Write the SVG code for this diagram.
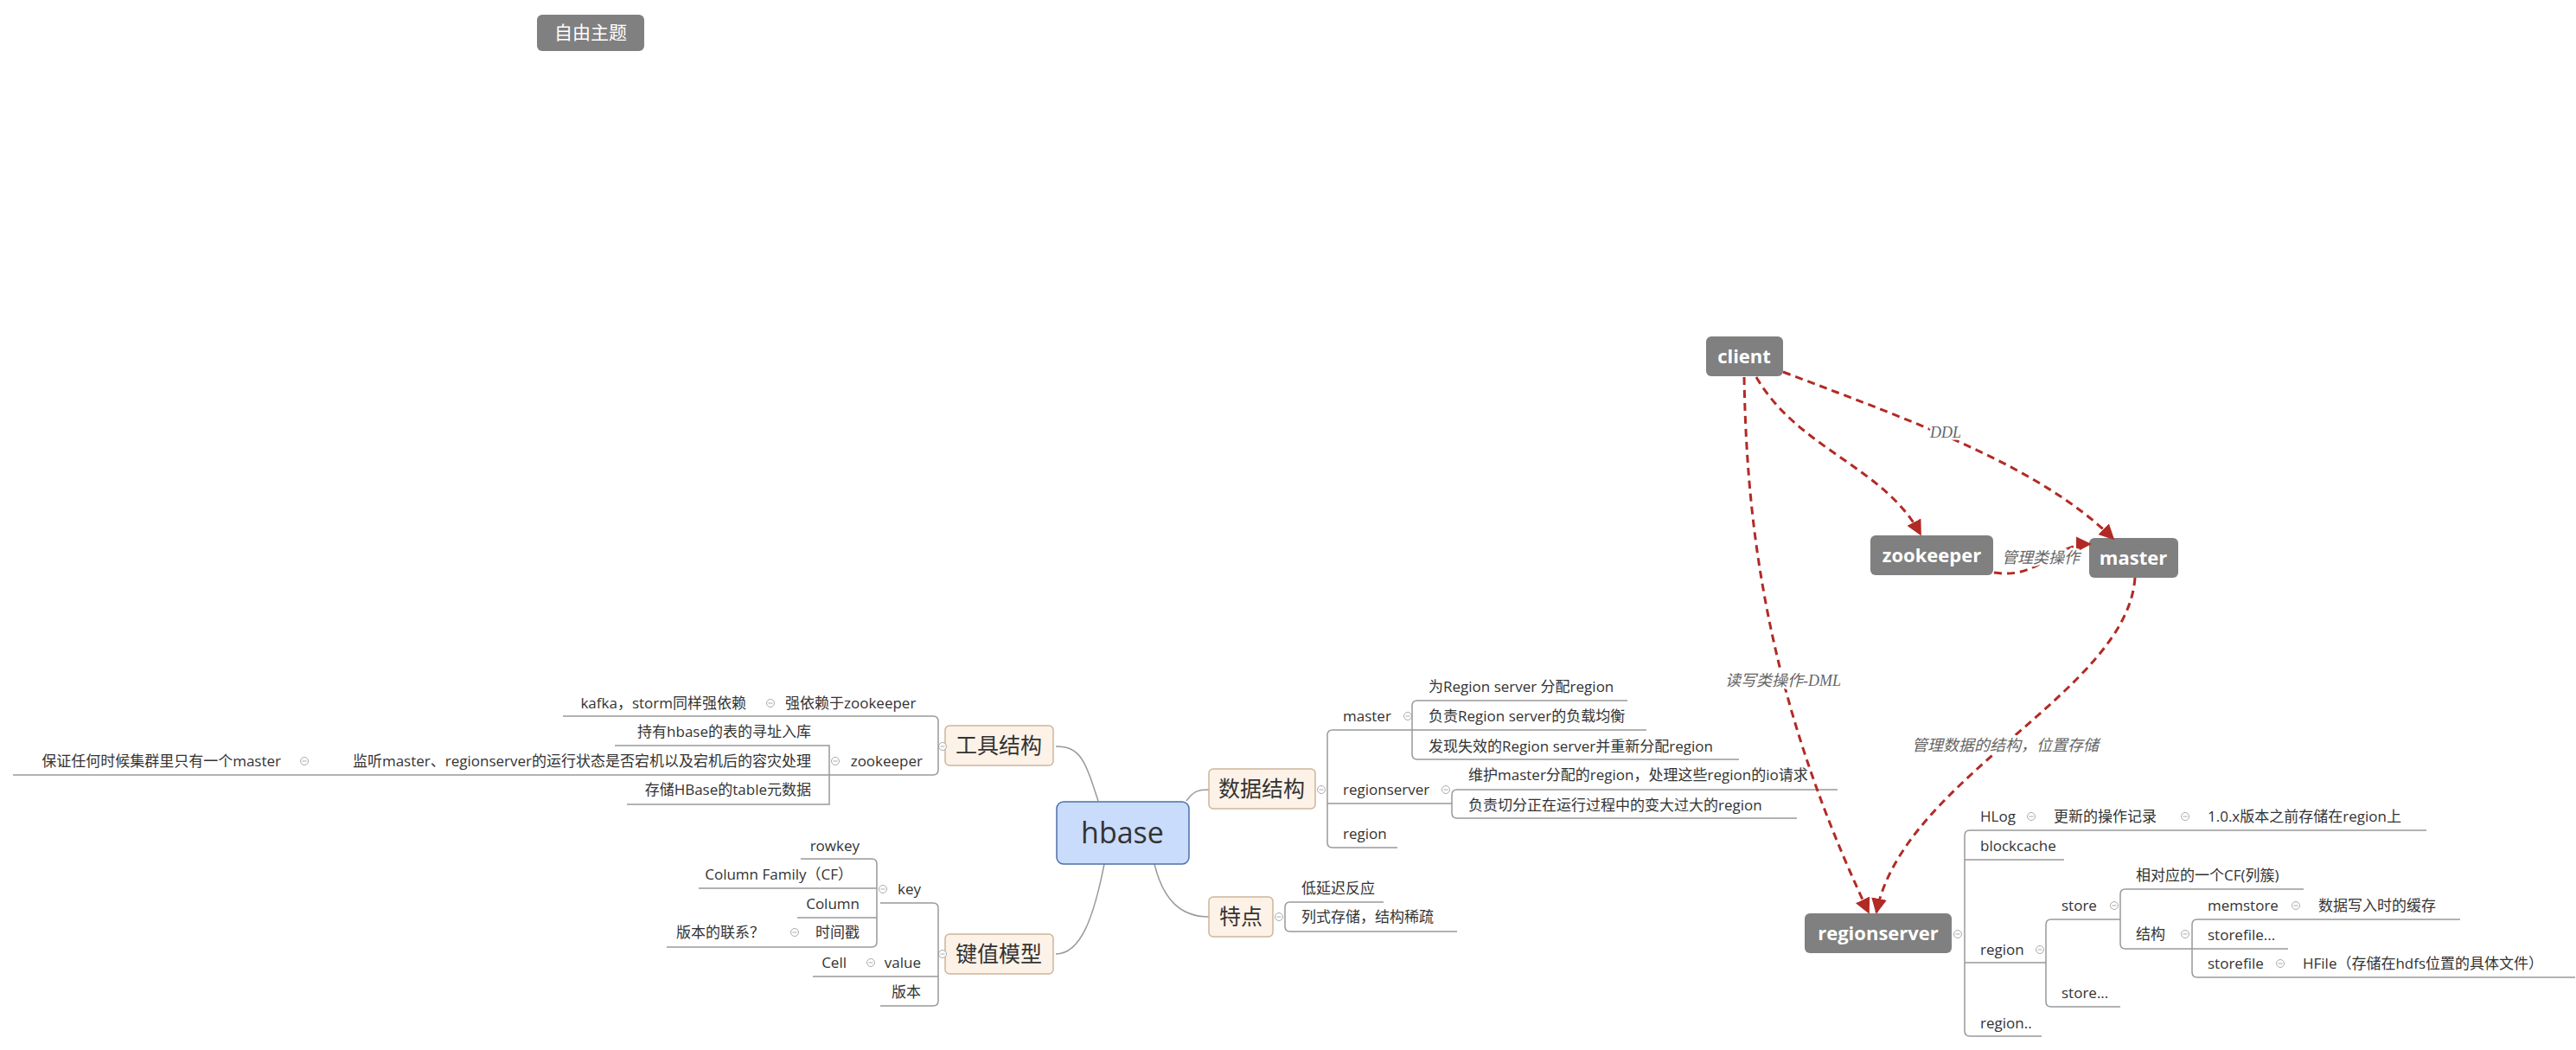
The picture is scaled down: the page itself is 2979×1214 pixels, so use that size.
<svg xmlns="http://www.w3.org/2000/svg" width="2979" height="1214" viewBox="0 0 2979 1214">
<style>
text{font-family:"Open Sans","Noto Sans CJK SC",sans-serif;fill:#333}
.t{font-size:17px}
.e{text-anchor:end}
.ln{fill:none;stroke:#999;stroke-width:1.5}
.topic{fill:#fdf2e7;stroke:#cdb59a;stroke-width:1.5}
.tt{font-size:25px;text-anchor:middle}
.dk{fill:#808080}
.dt{font-size:22px;font-weight:bold;fill:#fff;text-anchor:middle}
.c{fill:#fff;stroke:#aaa;stroke-width:1}
.rel{fill:none;stroke:#b22a25;stroke-width:3;stroke-dasharray:9,6}
.lb{font-family:"Liberation Serif","Noto Sans CJK SC",serif;font-style:italic;font-size:18px;fill:#666;text-anchor:middle;stroke:#fff;stroke-width:5;paint-order:stroke}
</style>
<defs>
<marker id="ah" viewBox="0 0 10 10" refX="9" refY="5" markerWidth="6" markerHeight="6" orient="auto" markerUnits="strokeWidth"><path d="M0,0L10,5L0,10z" fill="#b22a25"/></marker>
<g id="cm"><circle r="4.5" class="c"/><line x1="-2.5" x2="2.5" y1="0" y2="0" stroke="#aaa"/></g>
</defs>
<rect width="2979" height="1214" fill="#fff"/>

<g id="free"><rect x="621" y="17" width="124" height="42" rx="6" class="dk"/><text x="683" y="45" class="dt" style="font-weight:normal;font-size:21px">自由主题</text></g>

<g id="branches">
<path class="ln" d="M1270,926 C1255,880 1250,863 1221,863"/>
<path class="ln" d="M1277,999 C1265,1060 1250,1103 1221,1103"/>
<path class="ln" d="M1372,926 C1380,915 1385,913 1398,913"/>
<path class="ln" d="M1335,999 C1345,1040 1365,1060 1398,1060"/>
</g>

<g id="hbase"><rect x="1222" y="927" width="153" height="72" rx="8" fill="#c9dcfc" stroke="#4c6fa8" stroke-width="1.5"/><text x="1298" y="975" style="font-size:34px;text-anchor:middle">hbase</text></g>

<g id="tool">
<rect x="1093" y="839" width="125" height="46" rx="5" class="topic"/><text x="1155" y="871" class="tt">工具结构</text>
<use href="#cm" x="1090" y="863"/>
<path class="ln" d="M651,828 H1079 Q1085,828 1085,834 V890 Q1085,896 1079,896 H15"/>
<text x="863" y="819" class="t e">kafka，storm同样强依赖</text><use href="#cm" x="891" y="813"/><text x="908" y="819" class="t">强依赖于zookeeper</text>
<text x="1067" y="886" class="t e">zookeeper</text><use href="#cm" x="966" y="880"/>
<path class="ln" d="M711,862 H959 V930 H725"/>
<text x="938" y="852" class="t e">持有hbase的表的寻址入库</text>
<text x="938" y="886" class="t e">监听master、regionserver的运行状态是否宕机以及宕机后的容灾处理</text>
<use href="#cm" x="352" y="880"/>
<text x="325" y="886" class="t e">保证任何时候集群里只有一个master</text>
<text x="938" y="919" class="t e">存储HBase的table元数据</text>
</g>

<g id="kv">
<rect x="1093" y="1080" width="125" height="46" rx="5" class="topic"/><text x="1155" y="1112" class="tt">键值模型</text>
<use href="#cm" x="1090" y="1103"/>
<path class="ln" d="M1018,1044 H1079 Q1085,1044 1085,1050 V1157 Q1085,1163 1079,1163 H1018"/>
<path class="ln" d="M926,993 H1008 Q1014,993 1014,999 V1089 Q1014,1095 1008,1095 H771"/>
<path class="ln" d="M808,1027 H1014 M922,1061 H1014 M940,1129 H1085"/>
<text x="1065" y="1034" class="t e">key</text><use href="#cm" x="1021" y="1028"/>
<text x="994" y="984" class="t e">rowkey</text>
<text x="986" y="1017" class="t e">Column Family（CF）</text>
<text x="994" y="1051" class="t e">Column</text>
<text x="994" y="1084" class="t e">时间戳</text><use href="#cm" x="919" y="1078"/>
<text x="884" y="1084" class="t e">版本的联系？</text>
<text x="1065" y="1119" class="t e">value</text><use href="#cm" x="1007" y="1113"/>
<text x="979" y="1119" class="t e">Cell</text>
<text x="1065" y="1153" class="t e">版本</text>
</g>

<g id="data">
<rect x="1398" y="889" width="123" height="46" rx="5" class="topic"/><text x="1459" y="921" class="tt">数据结构</text>
<use href="#cm" x="1528" y="913"/>
<path class="ln" d="M1633,844 H1541 Q1535,844 1535,850 V974 Q1535,980 1541,980 H1616"/>
<path class="ln" d="M1535,929 H1679"/>
<text x="1553" y="834" class="t">master</text><use href="#cm" x="1628" y="828"/>
<path class="ln" d="M1882,810 H1639 Q1633,810 1633,816 V872 Q1633,878 1639,878 H2011 M1633,844 H1904"/>
<text x="1652" y="800" class="t">为Region server 分配region</text>
<text x="1652" y="834" class="t">负责Region server的负载均衡</text>
<text x="1652" y="869" class="t">发现失效的Region server并重新分配region</text>
<text x="1553" y="919" class="t">regionserver</text><use href="#cm" x="1672" y="913"/>
<path class="ln" d="M2125,913 H1685 Q1679,913 1679,919 V940 Q1679,946 1685,946 H2078"/>
<text x="1698" y="902" class="t">维护master分配的region，处理这些region的io请求</text>
<text x="1698" y="937" class="t">负责切分正在运行过程中的变大过大的region</text>
<text x="1553" y="970" class="t">region</text>
</g>

<g id="feat">
<rect x="1398" y="1037" width="74" height="46" rx="5" class="topic"/><text x="1435" y="1069" class="tt">特点</text>
<use href="#cm" x="1479" y="1060"/>
<path class="ln" d="M1600,1043 H1492 Q1486,1043 1486,1049 V1071 Q1486,1077 1492,1077 H1685"/>
<text x="1505" y="1033" class="t">低延迟反应</text>
<text x="1505" y="1066" class="t">列式存储，结构稀疏</text>
</g>

<g id="client"><rect x="1973" y="389" width="89" height="46" rx="6" class="dk"/><text x="2017" y="420" class="dt">client</text></g>
<g id="zookeeper"><rect x="2163" y="619" width="142" height="46" rx="6" class="dk"/><text x="2234" y="650" class="dt">zookeeper</text></g>
<g id="master"><rect x="2416" y="622" width="103" height="46" rx="6" class="dk"/><text x="2467" y="653" class="dt">master</text></g>

<g id="regionserver">
<rect x="2087" y="1056" width="170" height="46" rx="6" class="dk"/><text x="2172" y="1087" class="dt">regionserver</text>
<use href="#cm" x="2264" y="1080"/>
<path class="ln" d="M2806,960 H2278 Q2272,960 2272,966 V1192 Q2272,1198 2278,1198 H2361 M2272,994 H2387 M2272,1113 H2366"/>
<text x="2290" y="950" class="t">HLog</text><use href="#cm" x="2349" y="944"/>
<text x="2375" y="950" class="t">更新的操作记录</text><use href="#cm" x="2527" y="944"/>
<text x="2553" y="950" class="t">1.0.x版本之前存储在region上</text>
<text x="2290" y="984" class="t">blockcache</text>
<text x="2290" y="1104" class="t">region</text><use href="#cm" x="2359" y="1098"/>
<path class="ln" d="M2452,1063 H2372 Q2366,1063 2366,1069 V1158 Q2366,1164 2372,1164 H2452"/>
<text x="2384" y="1053" class="t">store</text><use href="#cm" x="2445" y="1047"/>
<path class="ln" d="M2664,1028 H2458 Q2452,1028 2452,1034 V1091 Q2452,1097 2458,1097 H2535"/>
<text x="2470" y="1018" class="t">相对应的一个CF(列簇)</text>
<text x="2470" y="1086" class="t">结构</text><use href="#cm" x="2527" y="1080"/>
<path class="ln" d="M2845,1063 H2541 Q2535,1063 2535,1069 V1124 Q2535,1130 2541,1130 H2978 M2535,1097 H2646"/>
<text x="2553" y="1053" class="t">memstore</text><use href="#cm" x="2655" y="1047"/>
<text x="2681" y="1053" class="t">数据写入时的缓存</text>
<text x="2553" y="1087" class="t">storefile...</text>
<text x="2553" y="1120" class="t">storefile</text><use href="#cm" x="2637" y="1114"/>
<text x="2663" y="1120" class="t">HFile（存储在hdfs位置的具体文件）</text>
<text x="2384" y="1154" class="t">store...</text>
<text x="2290" y="1189" class="t">region..</text>
</g>

<g id="connectors">
<path class="rel" marker-end="url(#ah)" d="M2017,436 C2020,600 2040,800 2161,1055"/>
<path class="rel" marker-end="url(#ah)" d="M2031,436 C2080,520 2180,540 2221,618"/>
<path class="rel" marker-end="url(#ah)" d="M2062,430 C2220,490 2360,540 2444,623"/>
<path class="rel" marker-end="url(#ah)" d="M2306,662 C2360,670 2370,630 2417,629"/>
<path class="rel" marker-end="url(#ah)" d="M2469,668 C2460,800 2200,900 2170,1055"/>
<text x="2250" y="506" class="lb">DDL</text>
<text x="2360" y="651" class="lb">管理类操作</text>
<text x="2062" y="793" class="lb">读写类操作-DML</text>
<text x="2319" y="868" class="lb">管理数据的结构，位置存储</text>
</g>
</svg>
